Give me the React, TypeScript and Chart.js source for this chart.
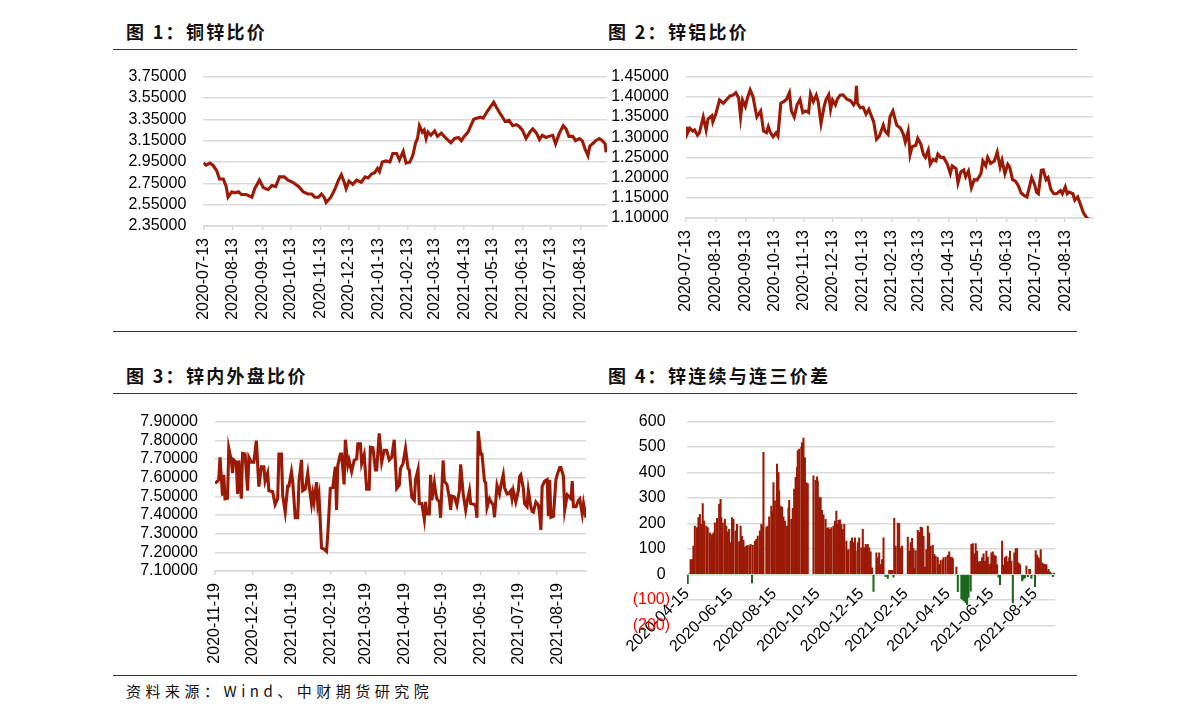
import React, { useEffect, useRef } from "react";
import { Chart, registerables } from "chart.js";

Chart.register(...registerables);

const RED = "#9A1A06";
const GREEN = "#1A661A";
const GRID = "#d9d9d9";
const FONT = '"Liberation Sans", Arial, sans-serif';
const CJK = '"Noto Sans CJK SC", sans-serif';

// ---------- 图1 铜锌比价 ----------
const P1_BASE = "2020-07-13";
const P1_XTICKS = ["2020-07-13", "2020-08-13", "2020-09-13", "2020-10-13", "2020-11-13", "2020-12-13", "2021-01-13", "2021-02-13", "2021-03-13", "2021-04-13", "2021-05-13", "2021-06-13", "2021-07-13", "2021-08-13"];
const P1_YTICKS = [2.35, 2.55, 2.75, 2.95, 3.15, 3.35, 3.55, 3.75];
const P1_DAYS = [
  0, 3, 7, 10, 14, 17, 21, 24, 26, 30,
  33, 37, 40, 45, 51, 54, 59, 63, 68, 72,
  76, 80, 85, 89, 94, 100, 105, 110, 114, 117,
  121, 124, 127, 129, 134, 138, 142, 145, 148, 150,
  153, 157, 161, 166, 170, 173, 177, 180, 183, 185,
  188, 192, 196, 199, 203, 206, 210, 213, 217, 220,
  223, 225, 227, 230, 232, 234, 236, 239, 243, 246,
  250, 255, 260, 264, 268, 271, 274, 278, 281, 284,
  287, 291, 294, 298, 301, 305, 308, 312, 315, 317,
  321, 325, 329, 332, 335, 339, 343, 346, 350, 353,
  356, 360, 363, 367, 370, 374, 378, 381, 384, 388,
  391, 395, 398, 401, 404, 406, 410, 412, 416, 419,
  422, 423,
];
const P1_VALS = [
  2.94, 2.92, 2.94, 2.92, 2.87, 2.79, 2.79, 2.72, 2.62, 2.67,
  2.66, 2.67, 2.645, 2.645, 2.62, 2.70, 2.78, 2.71, 2.69, 2.73,
  2.72, 2.81, 2.81, 2.78, 2.76, 2.72, 2.67, 2.65, 2.65, 2.62,
  2.62, 2.65, 2.62, 2.57, 2.62, 2.69, 2.78, 2.83, 2.76, 2.70,
  2.77, 2.74, 2.78, 2.76, 2.81, 2.80, 2.84, 2.85, 2.89, 2.86,
  2.95, 2.96, 2.95, 3.03, 3.03, 2.97, 3.05, 2.94, 2.95, 3.01,
  3.13, 3.17, 3.29, 3.23, 3.25, 3.17, 3.23, 3.20, 3.24, 3.19,
  3.22, 3.17, 3.13, 3.17, 3.18, 3.15, 3.19, 3.23, 3.29, 3.35,
  3.36, 3.37, 3.36, 3.42, 3.46, 3.51, 3.46, 3.40, 3.36, 3.33,
  3.34, 3.29, 3.30, 3.28, 3.25, 3.17, 3.23, 3.26, 3.22, 3.16,
  3.20, 3.18, 3.19, 3.20, 3.12, 3.22, 3.29, 3.26, 3.19, 3.19,
  3.15, 3.17, 3.15, 3.07, 3.01, 3.10, 3.13, 3.15, 3.17, 3.15,
  3.12, 3.04,
];

// ---------- 图2 锌铝比价 ----------
const P2_BASE = "2020-07-13";
const P2_XTICKS = P1_XTICKS;
const P2_YTICKS = [1.10, 1.15, 1.20, 1.25, 1.30, 1.35, 1.40, 1.45];
const P2_DAYS = [
  0, 1, 4, 7, 9, 12, 14, 18, 21, 23,
  27, 28, 31, 35, 39, 42, 46, 49, 52, 55,
  57, 59, 62, 64, 67, 70, 72, 74, 78, 81,
  84, 86, 88, 91, 94, 96, 99, 102, 105, 108,
  110, 113, 116, 119, 122, 125, 128, 130, 133, 136,
  138, 141, 144, 146, 149, 151, 153, 156, 158, 161,
  164, 168, 172, 175, 177, 178, 179, 182, 185, 188,
  191, 194, 196, 199, 202, 206, 208, 211, 213, 216,
  220, 224, 227, 229, 232, 234, 236, 240, 242, 245,
  248, 250, 253, 255, 258, 261, 263, 266, 269, 273,
  276, 278, 282, 284, 287, 290, 292, 295, 298, 301,
  304, 308, 310, 313, 315, 318, 322, 325, 328, 330,
  333, 336, 338, 341, 344, 347, 350, 353, 356, 358,
  361, 364, 366, 368, 371, 373, 376, 378, 381, 384,
  387, 391, 393, 396, 398, 400, 404, 406, 409, 412,
  415, 418, 420, 422, 424,
];
const P2_VALS = [
  1.326, 1.307, 1.322, 1.315, 1.318, 1.305, 1.311, 1.35, 1.318, 1.345,
  1.353, 1.338, 1.357, 1.392, 1.384, 1.392, 1.402, 1.404, 1.41, 1.397,
  1.35, 1.392, 1.376, 1.396, 1.417, 1.40, 1.374, 1.35, 1.365, 1.315,
  1.311, 1.326, 1.312, 1.301, 1.311, 1.303, 1.384, 1.388, 1.394, 1.41,
  1.365, 1.35, 1.38, 1.393, 1.361, 1.365, 1.361, 1.407, 1.388, 1.404,
  1.388, 1.334, 1.373, 1.392, 1.405, 1.369, 1.392, 1.38, 1.394, 1.404,
  1.405, 1.394, 1.39, 1.38, 1.388, 1.427, 1.384, 1.373, 1.374, 1.357,
  1.369, 1.35, 1.338, 1.295, 1.303, 1.33, 1.315, 1.307, 1.35, 1.365,
  1.33, 1.322, 1.307, 1.288, 1.315, 1.257, 1.276, 1.28, 1.297, 1.284,
  1.257, 1.25, 1.268, 1.233, 1.245, 1.241, 1.258, 1.25, 1.25, 1.233,
  1.21, 1.229, 1.222, 1.187, 1.214, 1.219, 1.202, 1.216, 1.175, 1.195,
  1.194, 1.21, 1.241, 1.229, 1.25, 1.235, 1.241, 1.263, 1.226, 1.243,
  1.21, 1.233, 1.226, 1.195, 1.191, 1.18, 1.162, 1.156, 1.152, 1.171,
  1.20, 1.183, 1.164, 1.16, 1.218, 1.219, 1.195, 1.20, 1.171, 1.16,
  1.16, 1.168, 1.16, 1.177, 1.16, 1.164, 1.16, 1.144, 1.152, 1.133,
  1.113, 1.102, 1.098, 1.093, 1.09,
];

// ---------- 图3 锌内外盘比价 ----------
const P3_BASE = "2020-11-19";
const P3_XTICKS = ["2020-11-19", "2020-12-19", "2021-01-19", "2021-02-19", "2021-03-19", "2021-04-19", "2021-05-19", "2021-06-19", "2021-07-19", "2021-08-19"];
const P3_YTICKS = [7.1, 7.2, 7.3, 7.4, 7.5, 7.6, 7.7, 7.8, 7.9];
const P3_DAYS = [
  0, 2, 3, 4, 6, 7, 8, 10, 11, 13,
  14, 15, 17, 18, 19, 21, 22, 24, 26, 27,
  29, 31, 33, 35, 37, 39, 40, 42, 43, 46,
  48, 50, 51, 53, 54, 56, 58, 59, 61, 62,
  64, 66, 67, 69, 70, 72, 74, 75, 77, 78,
  79, 81, 82, 83, 85, 87, 89, 90, 92, 94,
  96, 97, 98, 100, 101, 103, 104, 106, 107, 109,
  111, 113, 114, 116, 117, 119, 121, 123, 124, 126,
  128, 129, 131, 133, 135, 137, 139, 141, 143, 145,
  147, 148, 150, 152, 154, 155, 157, 159, 160, 162,
  163, 165, 167, 168, 169, 171, 172, 173, 175, 176,
  177, 179, 180, 182, 183, 185, 187, 188, 189, 191,
  193, 195, 196, 198, 200, 201, 203, 204, 207, 208,
  209, 210, 212, 213, 215, 216, 217, 219, 220, 222,
  223, 225, 227, 228, 230, 231, 233, 234, 236, 237,
  238, 240, 242, 243, 244, 246, 247, 249, 250, 252,
  253, 254, 256, 258, 259, 260, 261, 263, 265, 266,
  267, 268, 270, 272, 273, 275, 276, 278, 279, 281,
  282, 284, 285, 286, 288, 290, 291, 293, 294, 296,
];
const P3_VALS = [
  7.569, 7.581, 7.589, 7.709, 7.504, 7.615, 7.487, 7.49, 7.757, 7.692,
  7.624, 7.695, 7.683, 7.513, 7.692, 7.487, 7.729, 7.726, 7.53, 7.709,
  7.683, 7.683, 7.798, 7.552, 7.658, 7.658, 7.581, 7.624, 7.53, 7.525,
  7.456, 7.487, 7.726, 7.726, 7.504, 7.415, 7.555, 7.555, 7.632, 7.581,
  7.385, 7.385, 7.581, 7.695, 7.53, 7.539, 7.624, 7.564, 7.461, 7.513,
  7.47, 7.576, 7.461, 7.501, 7.223, 7.217, 7.205, 7.299, 7.542, 7.547,
  7.658, 7.427, 7.666, 7.726, 7.726, 7.564, 7.803, 7.666, 7.692, 7.632,
  7.692, 7.70, 7.781, 7.781, 7.675, 7.723, 7.538, 7.538, 7.763, 7.76,
  7.641, 7.641, 7.837, 7.683, 7.746, 7.746, 7.695, 7.709, 7.803, 7.542,
  7.56, 7.649, 7.675, 7.757, 7.649, 7.641, 7.496, 7.479, 7.589, 7.644,
  7.461, 7.461, 7.376, 7.47, 7.405, 7.405, 7.615, 7.479, 7.572, 7.521,
  7.487, 7.47, 7.385, 7.692, 7.581, 7.564, 7.49, 7.427, 7.501, 7.496,
  7.453, 7.53, 7.671, 7.513, 7.427, 7.467, 7.53, 7.461, 7.456, 7.444,
  7.385, 7.849, 7.726, 7.726, 7.581, 7.572, 7.439, 7.487, 7.473, 7.453,
  7.388, 7.559, 7.513, 7.555, 7.615, 7.547, 7.513, 7.513, 7.53, 7.487,
  7.53, 7.47, 7.53, 7.606, 7.615, 7.542, 7.461, 7.444, 7.53, 7.444,
  7.419, 7.415, 7.47, 7.453, 7.405, 7.32, 7.552, 7.581, 7.589, 7.393,
  7.589, 7.388, 7.393, 7.589, 7.615, 7.654, 7.654, 7.606, 7.427, 7.508,
  7.501, 7.487, 7.581, 7.444, 7.444, 7.479, 7.487, 7.405, 7.461, 7.385,
];

// ---------- 图4 锌连续与连三价差 ----------
const P4_BASE = "2020-04-15";
const P4_XTICKS = ["2020-04-15", "2020-06-15", "2020-08-15", "2020-10-15", "2020-12-15", "2021-02-15", "2021-04-15", "2021-06-15", "2021-08-15"];
const P4_YTICKS = [-200, -100, 0, 100, 200, 300, 400, 500, 600];
const P4_DAYS = [
  1, 3, 5, 7, 9, 11, 14, 16, 18, 20,
  22, 24, 27, 29, 32, 34, 35, 37, 39, 42,
  45, 47, 48, 50, 53, 55, 57, 59, 61, 63,
  65, 68, 70, 73, 75, 77, 79, 81, 83, 85,
  88, 89, 91, 92, 95, 97, 99, 102, 104, 106,
  107, 111, 113, 115, 118, 119, 121, 123, 126, 128,
  129, 131, 133, 135, 137, 140, 142, 143, 146, 148,
  150, 152, 154, 155, 157, 160, 161, 163, 165, 167,
  169, 177, 180, 182, 183, 185, 187, 189, 191, 194,
  196, 198, 200, 202, 205, 207, 209, 210, 212, 214,
  216, 218, 220, 223, 224, 226, 229, 231, 233, 235,
  236, 239, 241, 244, 246, 248, 250, 251, 253, 255,
  257, 259, 261, 265, 267, 269, 271, 273, 275, 278,
  281, 283, 285, 287, 289, 290, 292, 295, 297, 299,
  301, 309, 311, 313, 315, 317, 318, 320, 323, 325,
  327, 329, 331, 333, 335, 337, 339, 341, 344, 346,
  348, 351, 353, 355, 358, 359, 362, 365, 367, 369,
  371, 372, 377, 379, 384, 386, 388, 390, 392, 394,
  397, 398, 400, 402, 404, 406, 408, 410, 411, 413,
  415, 417, 419, 421, 423, 425, 426, 428, 430, 432,
  434, 436, 438, 441, 443, 445, 447, 449, 451, 452,
  454, 456, 458, 460, 462, 464, 466, 469, 471, 473,
  475, 477, 479, 480, 482, 487, 488, 490, 492, 494,
  495, 497, 499, 501, 503, 505, 506, 508, 510, 512, 514,
];
const P4_VALS = [
  -36, 3, 59, 59, 112, 190, 184, 223, 236, 197,
  278, 210, 190, 184, 164, 138, 157, 164, 203, 220,
  276, 295, 223, 203, 217, 190, 168, 177, 125, 223,
  217, 171, 197, 129, 190, 151, 134, 108, 112, 115,
  112, 118, -33, 115, 131, 138, 151, 171, 197, 190,
  479, 186, 190, 226, 269, 249, 361, 289, 433, 400,
  328, 269, 265, 226, 210, 190, 262, 291, 217, 260,
  335, 381, 420, 486, 492, 501, 518, 535, 459, 361,
  357, 387, 370, 383, 367, 302, 302, 252, 234, 217,
  181, 184, 177, 184, 190, 210, 249, 197, 213, 215,
  197, 177, 197, 131, 94, 98, 131, 144, 125, 144,
  92, 125, 144, 105, 177, 105, 118, 112, 118, 105,
  89, 26, -66, 85, 66, 85, 39, 59, 144, -8,
  -15, 16, 16, 16, -10, 220, 112, 202, 200, 105,
  112, 147, 92, 125, 142, 102, 24, 94, 173, 167,
  186, 184, 151, 29, 98, 190, 164, 112, 115, 79,
  72, 66, 39, 55, 59, 66, 68, 76, 89, 68,
  66, 62, 29, -67, -95, -100, -105, -110, -118, -90,
  -65, 118, 121, 81, 121, 92, 50, 50, 52, 66,
  81, 52, 92, 68, 39, 42, 85, 89, 76, 72,
  39, -10, -40, 131, 37, 66, 72, 50, 66, 92,
  52, -111, 85, 102, 102, 46, 39, -25, -18, -12,
  33, -8, 20, 20, -15, -48, 94, 76, 66, 59,
  98, 46, 42, 39, 39, 13, 20, 10, 6, -8, 6,
];

// ---------- helpers ----------
function toUTC(s: string) {
  const [y, m, d] = s.split("-").map(Number);
  return Date.UTC(y, m - 1, d);
}
function dayOf(base: string, s: string) {
  return Math.round((toUTC(s) - toUTC(base)) / 86400000);
}

const tickFont = { family: FONT, size: 16 };

function lineConfig(p: any) {
  const tickVals = p.xticks.map((s: string) => dayOf(p.base, s));
  return {
    type: "line",
    data: {
      datasets: [
        {
          data: p.days.map((d: number, i: number) => ({ x: d, y: p.vals[i] })),
          borderColor: RED,
          borderWidth: 3.1,
          pointRadius: 0,
          tension: 0,
          fill: false,
        },
      ],
    },
    options: {
      animation: false,
      responsive: false,
      events: [],
      layout: { padding: { top: p.padTop, right: p.padRight, left: 0, bottom: 0 } },
      plugins: { legend: { display: false }, tooltip: { enabled: false } },
      scales: {
        x: {
          type: "linear",
          min: 0,
          max: p.xmax,
          offset: false,
          afterBuildTicks: (s: any) => {
            s.ticks = tickVals.map((v: number) => ({ value: v }));
          },
          afterFit: (s: any) => {
            s.height = p.xH;
          },
          grid: { drawOnChartArea: false, drawTicks: true, tickLength: 4, color: GRID, lineWidth: 1.5 },
          border: { display: true, color: GRID, width: 1.5 },
          ticks: {
            autoSkip: false,
            minRotation: 90,
            maxRotation: 90,
            padding: 8,
            color: "#000",
            font: tickFont,
            callback: (_v: any, i: number) => p.xticks[i],
          },
        },
        y: {
          type: "linear",
          min: p.yticks[0],
          max: p.yticks[p.yticks.length - 1],
          afterBuildTicks: (s: any) => {
            s.ticks = p.yticks.map((v: number) => ({ value: v }));
          },
          afterFit: (s: any) => {
            s.width = p.yW;
          },
          grid: { color: GRID, lineWidth: 1.5, drawTicks: false },
          border: { display: false },
          ticks: {
            autoSkip: false,
            padding: 17,
            color: "#000",
            font: tickFont,
            callback: (v: any) => Number(v).toFixed(5),
          },
        },
      },
    },
  };
}

function barConfig() {
  const tickVals = P4_XTICKS.map((s) => dayOf(P4_BASE, s));
  return {
    type: "bar",
    data: {
      datasets: [
        {
          data: P4_DAYS.map((d, i) => ({ x: d, y: P4_VALS[i] })),
          backgroundColor: (ctx: any) => (ctx.raw && ctx.raw.y < 0 ? GREEN : RED),
          barThickness: 1.4,
          borderWidth: 0,
        },
      ],
    },
    options: {
      animation: false,
      responsive: false,
      events: [],
      layout: { padding: { top: 26, right: 25, left: 0, bottom: 49.5 } },
      plugins: { legend: { display: false }, tooltip: { enabled: false } },
      scales: {
        x: {
          type: "linear",
          min: 0,
          max: 515,
          offset: false,
          position: { y: 0 },
          afterBuildTicks: (s: any) => {
            s.ticks = tickVals.map((v) => ({ value: v }));
          },
          grid: { display: true, drawOnChartArea: false, drawTicks: false, color: GRID },
          border: { display: true, color: GRID, width: 1.5 },
          ticks: {
            autoSkip: false,
            minRotation: 45,
            maxRotation: 45,
            padding: 10,
            labelOffset: 0,
            color: "#000",
            font: tickFont,
            callback: (_v: any, i: number) => P4_XTICKS[i],
          },
        },
        y: {
          type: "linear",
          min: P4_YTICKS[0],
          max: P4_YTICKS[P4_YTICKS.length - 1],
          afterBuildTicks: (s: any) => {
            s.ticks = P4_YTICKS.map((v) => ({ value: v }));
          },
          afterFit: (s: any) => {
            s.width = 87;
          },
          grid: { color: GRID, lineWidth: 1.5, drawTicks: false },
          border: { display: false },
          ticks: {
            autoSkip: false,
            padding: 17,
            font: tickFont,
            color: (ctx: any) => (ctx.tick && ctx.tick.value < 0 ? "#FF0000" : "#000"),
            callback: (v: any) => (Number(v) < 0 ? `(${-Number(v)})` : `${v} `),
          },
        },
      },
    },
  };
}

function ChartBox(props: { left: number; top: number; width: number; height: number; make: () => any }) {
  const ref = useRef<HTMLCanvasElement>(null);
  useEffect(() => {
    const chart = new Chart(ref.current as HTMLCanvasElement, props.make());
    return () => chart.destroy();
  }, []);
  return (
    <canvas
      ref={ref}
      width={props.width}
      height={props.height}
      style={{ position: "absolute", left: props.left, top: props.top, width: props.width, height: props.height }}
    />
  );
}

function Title(props: { left: number; cy: number; text: string }) {
  return (
    <div
      style={{
        position: "absolute",
        left: props.left,
        top: props.cy - 12,
        height: 24,
        lineHeight: "24px",
        fontFamily: CJK,
        fontWeight: 700,
        fontSize: 18,
        letterSpacing: "2.3px",
        color: "#111",
        whiteSpace: "nowrap",
      }}
    >
      {props.text}
    </div>
  );
}

function HLine(props: { top: number }) {
  return <div style={{ position: "absolute", left: 113, top: props.top, width: 964, height: 1.5, background: "#333" }} />;
}

export default function App() {
  return (
    <div style={{ position: "absolute", left: 0, top: 0, width: 1191, height: 725, background: "#fff", overflow: "hidden" }}>
      <Title left={126} cy={31} text="图 1：铜锌比价" />
      <Title left={608} cy={31} text="图 2：锌铝比价" />
      <Title left={126} cy={375} text="图 3：锌内外盘比价" />
      <Title left={608} cy={375} text="图 4：锌连续与连三价差" />
      <HLine top={48.5} />
      <HLine top={330.5} />
      <HLine top={392.5} />
      <HLine top={674.5} />
      <ChartBox
        left={113}
        top={50}
        width={500}
        height={281}
        make={() =>
          lineConfig({ base: P1_BASE, xticks: P1_XTICKS, yticks: P1_YTICKS, days: P1_DAYS, vals: P1_VALS, xmax: 424, yW: 90.3, xH: 105, padTop: 16, padRight: 6 })
        }
      />
      <ChartBox
        left={600}
        top={50}
        width={500}
        height={281}
        make={() =>
          lineConfig({ base: P2_BASE, xticks: P2_XTICKS, yticks: P2_YTICKS, days: P2_DAYS, vals: P2_VALS, xmax: 425, yW: 86, xH: 113, padTop: 16.7, padRight: 7 })
        }
      />
      <ChartBox
        left={113}
        top={395}
        width={490}
        height={280}
        make={() =>
          lineConfig({ base: P3_BASE, xticks: P3_XTICKS, yticks: P3_YTICKS, days: P3_DAYS, vals: P3_VALS, xmax: 296, yW: 102, xH: 104, padTop: 18.7, padRight: 17 })
        }
      />
      <ChartBox left={600} top={395} width={480} height={280} make={barConfig} />
      <div
        style={{
          position: "absolute",
          left: 126,
          top: 680.5,
          height: 20,
          lineHeight: "20px",
          fontFamily: CJK,
          fontSize: 15,
          letterSpacing: "4.5px",
          color: "#111",
          whiteSpace: "nowrap",
        }}
      >
        资料来源：Wind、中财期货研究院
      </div>
    </div>
  );
}
